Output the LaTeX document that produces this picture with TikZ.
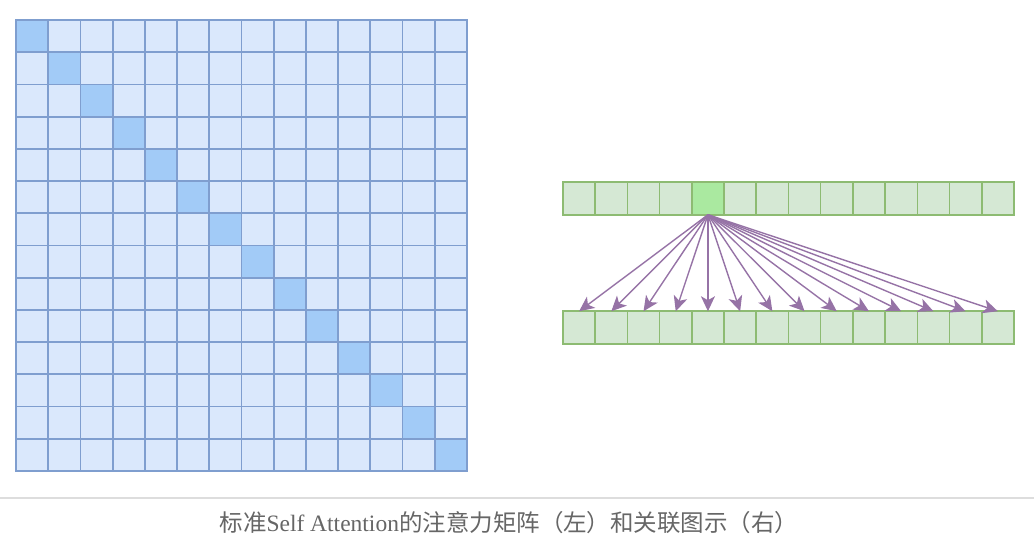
\documentclass[tikz,border=0pt]{standalone}
\usepackage{fontspec}
\setmainfont{Liberation Serif}
\newfontfamily\cjk{Noto Sans CJK SC}
\usetikzlibrary{arrows.meta}
\definecolor{mfill}{HTML}{DAE8FC}
\definecolor{mdiag}{HTML}{A2CBF7}
\definecolor{mline}{HTML}{7F9ECF}
\definecolor{gfill}{HTML}{D5E8D4}
\definecolor{ghigh}{HTML}{AAE9A0}
\definecolor{gline}{HTML}{8DBB72}
\definecolor{arr}{HTML}{9673A6}
\definecolor{sep}{HTML}{DDDDDD}
\definecolor{captxt}{HTML}{666666}
\tikzset{
  mcell/.style={draw=mline, fill=mfill, line width=1.8pt, minimum size=32.21pt, inner sep=0pt, outer sep=0pt},
  mdcell/.style={mcell, fill=mdiag},
  gcell/.style={draw=gline, fill=gfill, line width=1.6pt, minimum width=32.21pt, minimum height=32.5pt, inner sep=0pt, outer sep=0pt},
  ghcell/.style={gcell, fill=ghigh},
  link/.style={draw=arr, line width=1.4pt, -{Stealth[length=15pt,width=14pt,inset=4pt]}},
  caption/.style={text=captxt, font=\fontsize{23.5pt}{26pt}\selectfont, inner sep=0pt}
}
\begin{document}
\begin{tikzpicture}[x=1pt,y=-1pt]
\useasboundingbox (0,0) rectangle (1034,548);
% attention matrix
\foreach \r in {1,...,14}{
  \foreach \c in {1,...,14}{
    \ifnum\r=\c
      \node[mdcell] (m-\r-\c) at ({16+(\c-0.5)*32.21},{20+(\r-0.5)*32.21}) {};
    \else
      \node[mcell] (m-\r-\c) at ({16+(\c-0.5)*32.21},{20+(\r-0.5)*32.21}) {};
    \fi
  }
}
% top sequence
\foreach \c in {1,...,14}{
  \ifnum\c=5
    \node[ghcell] (t-\c) at ({563+(\c-0.5)*32.21},198.5) {};
  \else
    \node[gcell] (t-\c) at ({563+(\c-0.5)*32.21},198.5) {};
  \fi
}
% bottom sequence
\foreach \c in {1,...,14}{
  \node[gcell] (b-\c) at ({563+(\c-0.5)*32.21},327.5) {};
}
\foreach \c in {1,...,14}{
  \draw[link] (t-5.south) -- (b-\c.north);
}
% separator and caption
\coordinate (sl) at (0,498);
\coordinate (sr) at (1034,498);
\draw[sep, line width=1.5pt] (sl) -- (sr);
\node[caption] (cap) at (509,523) {{\cjk 标准}Self Attention{\cjk 的注意力矩阵（左）和关联图示（右）}};
\end{tikzpicture}
\end{document}
